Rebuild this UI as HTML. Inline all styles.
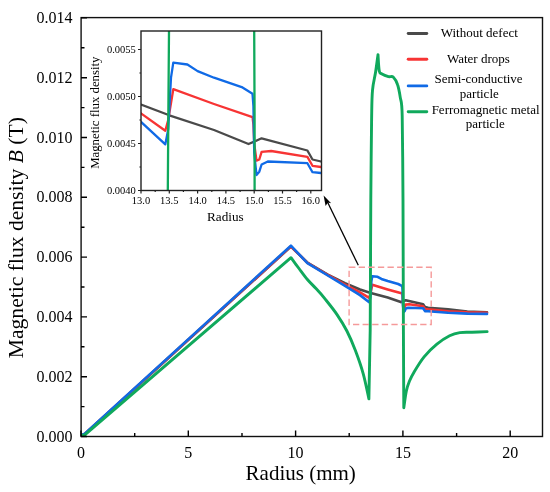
<!DOCTYPE html><html><head><meta charset="utf-8"><title>Magnetic flux density</title>
<style>html,body{margin:0;padding:0;background:#fff}svg{display:block}text{font-family:"Liberation Serif","Times New Roman",serif;fill:#000}</style></head><body>
<svg width="550" height="492" viewBox="0 0 550 492">
<rect width="550" height="492" fill="#fff"/>
<defs><clipPath id="mc"><rect x="81" y="17.5" width="462" height="419"/></clipPath><clipPath id="ic"><rect x="141" y="31" width="180.5" height="159.5"/></clipPath></defs>
<g clip-path="url(#mc)" fill="none" stroke-linejoin="round" stroke-linecap="round" stroke-width="2.6">
<polyline stroke="#4a4a4a" points="81.0,435.0 84.2,434.7 290.9,246.6 307.4,262.5 327.8,274.6 345.0,283.1 360.0,289.5 370.7,293.0 387.7,297.6 400.8,302.1 402.9,301.4 405.7,300.3 423.1,304.2 425.0,307.0 428.2,307.7 448.0,309.4 467.3,311.5 487.0,312.2"/>
<polyline stroke="#f73434" points="81.0,435.0 84.2,434.4 290.9,246.3 307.4,262.8 327.8,275.0 345.0,284.6 360.0,292.4 369.2,297.9 370.3,294.5 372.2,284.7 387.7,289.4 402.3,293.6 402.6,296.0 402.9,302.0 403.8,307.4 404.8,307.0 405.7,304.6 409.3,304.3 423.1,306.2 425.0,309.0 428.2,309.4 448.0,311.2 467.3,312.4 487.0,312.7"/>
<polyline stroke="#106ae6" points="81.0,435.0 84.2,434.1 290.9,245.7 307.4,263.1 327.8,275.5 345.0,285.8 360.0,295.1 369.2,302.2 370.3,297.5 371.4,281.0 372.2,276.2 377.6,276.8 381.4,278.9 387.7,281.0 398.2,284.0 402.3,286.1 402.6,290.0 402.9,304.9 403.8,312.0 404.8,310.9 405.7,308.6 408.1,307.7 423.1,308.2 425.0,311.1 428.2,311.3 448.0,312.7 467.3,313.6 487.0,313.9"/>
<path stroke="#10a95c" stroke-width="2.9" d="M81,435.4L84.8,434.9L291,257.7C292.3,259.5 296.3,264.9 299.0,268.5C301.7,272.1 304.6,276.2 307.4,279.5C310.2,282.8 313.2,285.5 316.0,288.5C318.8,291.5 320.6,293.3 324.0,297.6C327.4,301.9 332.9,308.5 336.7,314.1C340.5,319.7 343.8,324.9 346.9,331.0C350.0,337.1 352.7,343.4 355.4,350.5C358.1,357.6 360.9,365.3 363.1,373.4C365.4,381.5 367.9,394.6 368.9,398.9L370.2,330L370.8,200C370.9,186.7 371.3,138.3 371.6,120.0C371.9,101.7 371.8,98.3 372.5,90.3C373.2,82.3 374.7,77.9 375.6,72.0C376.5,66.1 377.6,57.6 378.0,54.7C378.2,57.4 378.6,67.9 379.3,71.1C380.0,74.3 380.5,73.0 382.0,73.9C383.5,74.8 386.5,76.0 388.4,76.6C390.3,77.1 391.9,75.8 393.4,77.2C394.9,78.6 396.5,81.4 397.6,84.8C398.8,88.2 399.5,92.4 400.3,97.6C401.1,102.8 401.8,98.9 402.2,116.0C402.6,133.1 402.9,186.0 403.0,200.0L403.4,330L403.8,407.8C404.2,405.0 405.4,395.7 406.3,391.2C407.2,386.7 408.2,384.2 409.5,381.0C410.8,377.8 411.6,376.2 414.0,372.2C416.4,368.2 420.3,361.6 424.1,356.9C427.9,352.2 432.6,347.7 436.9,344.2C441.1,340.7 445.8,337.7 449.6,335.8C453.4,333.9 456.1,333.2 459.8,332.6C463.5,332.0 467.4,332.4 472.0,332.2C476.6,332.0 484.6,331.7 487.1,331.6"/>
</g>
<rect x="349.1" y="267.3" width="82.1" height="57.2" fill="none" stroke="#f59a9a" stroke-width="1.4" stroke-dasharray="6.3,3.3"/>
<line x1="358.3" y1="265.3" x2="327" y2="201" stroke="#000" stroke-width="1.3"/>
<polygon points="323.6,195.4 331.2,203.2 327.9,202.6 325.6,206" fill="#000"/>
<rect x="81.1" y="17.6" width="461.4" height="418.9" fill="none" stroke="#111" stroke-width="1.4"/>
<path d="M81,436.5h6M81,406.6h3.5M81,376.7h6M81,346.8h3.5M81,316.9h6M81,287.0h3.5M81,257.1h6M81,227.2h3.5M81,197.3h6M81,167.4h3.5M81,137.5h6M81,107.6h3.5M81,77.7h6M81,47.8h3.5M81,17.9h6M81.0,436.5v-6M134.7,436.5v-3.5M188.3,436.5v-6M242.0,436.5v-3.5M295.6,436.5v-6M349.2,436.5v-3.5M402.9,436.5v-6M456.6,436.5v-3.5M510.2,436.5v-6" stroke="#000" stroke-width="1.4" fill="none"/>
<text x="72.5" y="441.5" font-size="16" text-anchor="end">0.000</text>
<text x="72.5" y="381.7" font-size="16" text-anchor="end">0.002</text>
<text x="72.5" y="321.9" font-size="16" text-anchor="end">0.004</text>
<text x="72.5" y="262.1" font-size="16" text-anchor="end">0.006</text>
<text x="72.5" y="202.3" font-size="16" text-anchor="end">0.008</text>
<text x="72.5" y="142.5" font-size="16" text-anchor="end">0.010</text>
<text x="72.5" y="82.7" font-size="16" text-anchor="end">0.012</text>
<text x="72.5" y="22.9" font-size="16" text-anchor="end">0.014</text>
<text x="81.0" y="457.7" font-size="16" text-anchor="middle">0</text>
<text x="188.3" y="457.7" font-size="16" text-anchor="middle">5</text>
<text x="295.6" y="457.7" font-size="16" text-anchor="middle">10</text>
<text x="402.9" y="457.7" font-size="16" text-anchor="middle">15</text>
<text x="510.2" y="457.7" font-size="16" text-anchor="middle">20</text>
<text x="300.7" y="480" font-size="21" text-anchor="middle">Radius (mm)</text>
<text transform="translate(22.8,237.7) rotate(-90)" font-size="21.6" text-anchor="middle">Magnetic flux density <tspan font-style="italic">B</tspan> (T)</text>
<line x1="408.2" y1="33.5" x2="426.8" y2="33.5" stroke="#4a4a4a" stroke-width="2.9" stroke-linecap="round"/>
<line x1="408.2" y1="59.2" x2="426.8" y2="59.2" stroke="#f73434" stroke-width="2.9" stroke-linecap="round"/>
<line x1="408.2" y1="85.9" x2="426.8" y2="85.9" stroke="#106ae6" stroke-width="2.9" stroke-linecap="round"/>
<line x1="408.2" y1="111.8" x2="426.8" y2="111.8" stroke="#10a95c" stroke-width="2.9" stroke-linecap="round"/>
<text x="479.3" y="36.8" font-size="13" text-anchor="middle">Without defect</text>
<text x="478.4" y="62.7" font-size="13" text-anchor="middle">Water drops</text>
<text x="478.6" y="82.6" font-size="13" text-anchor="middle">Semi-conductive</text>
<text x="479.3" y="97.6" font-size="13" text-anchor="middle">particle</text>
<text x="485.6" y="113.7" font-size="13" text-anchor="middle">Ferromagnetic metal</text>
<text x="485.3" y="128.2" font-size="13" text-anchor="middle">particle</text>
<rect x="141" y="31" width="180.5" height="159.5" fill="#fff" stroke="none"/>
<g clip-path="url(#ic)" fill="none" stroke-linejoin="round" stroke-width="2.3">
<polyline stroke="#4a4a4a" points="-594.8,561.8 -586.3,560.9 -41.3,-30.4 2.3,19.4 56.1,57.5 101.4,84.3 141.0,104.5 169.3,115.3 214.0,130.0 248.5,144.0 254.2,141.6 261.6,138.3 307.4,150.5 312.5,159.5 321.0,161.5 373.1,167.0 424.0,173.6 476.1,175.7"/>
<polyline stroke="#f73434" points="-594.8,561.8 -586.3,559.9 -41.3,-31.3 2.3,20.4 56.1,58.9 101.4,89.0 141.0,113.4 165.3,130.7 168.2,120.0 173.3,89.2 214.0,104.0 252.5,117.2 253.4,124.7 254.2,143.5 256.5,160.7 259.3,159.5 261.6,151.8 271.2,151.0 307.4,156.9 312.5,165.8 321.0,167.0 373.1,172.6 424.0,176.4 476.1,177.3"/>
<polyline stroke="#106ae6" points="-594.8,561.8 -586.3,559.0 -41.3,-33.2 2.3,21.3 56.1,60.3 101.4,92.7 141.0,121.9 165.3,144.4 168.2,129.4 171.0,77.7 173.3,62.7 187.4,64.5 197.6,71.1 214.0,77.7 241.7,87.1 252.5,93.7 253.4,105.9 254.2,152.9 256.5,175.0 259.3,171.7 261.6,164.5 267.8,161.5 307.4,163.2 312.5,172.2 321.0,173.0 373.1,177.3 424.0,180.2 476.1,181.1"/>
<polyline stroke="#10a95c" points="167.8,191 168.3,120 169,31"/>
<polyline stroke="#10a95c" points="254.6,191 254.6,120 254.2,31"/>
</g>
<rect x="141" y="31" width="180.5" height="159.5" fill="none" stroke="#222" stroke-width="1.4"/>
<path d="M141,190.5h-3M141,167.0h-1.6M141,143.5h-3M141,120.0h-1.6M141,96.5h-3M141,73.0h-1.6M141,49.5h-3M141.0,190.5v3M155.2,190.5v1.6M169.3,190.5v3M183.4,190.5v1.6M197.6,190.5v3M211.8,190.5v1.6M225.9,190.5v3M240.1,190.5v1.6M254.2,190.5v3M268.4,190.5v1.6M282.5,190.5v3M296.6,190.5v1.6M310.8,190.5v3" stroke="#222" stroke-width="1.2" fill="none"/>
<text x="135.8" y="194.1" font-size="10.5" text-anchor="end" fill="#222">0.0040</text>
<text x="135.8" y="147.1" font-size="10.5" text-anchor="end" fill="#222">0.0045</text>
<text x="135.8" y="100.1" font-size="10.5" text-anchor="end" fill="#222">0.0050</text>
<text x="135.8" y="53.1" font-size="10.5" text-anchor="end" fill="#222">0.0055</text>
<text x="141.0" y="204.3" font-size="10.5" text-anchor="middle" fill="#222">13.0</text>
<text x="169.3" y="204.3" font-size="10.5" text-anchor="middle" fill="#222">13.5</text>
<text x="197.6" y="204.3" font-size="10.5" text-anchor="middle" fill="#222">14.0</text>
<text x="225.9" y="204.3" font-size="10.5" text-anchor="middle" fill="#222">14.5</text>
<text x="254.2" y="204.3" font-size="10.5" text-anchor="middle" fill="#222">15.0</text>
<text x="282.5" y="204.3" font-size="10.5" text-anchor="middle" fill="#222">15.5</text>
<text x="310.8" y="204.3" font-size="10.5" text-anchor="middle" fill="#222">16.0</text>
<text x="225.4" y="220.6" font-size="13.2" text-anchor="middle" fill="#222">Radius</text>
<text transform="translate(99.2,112.7) rotate(-90)" font-size="12.8" text-anchor="middle" fill="#222">Magnetic flux density</text>
</svg></body></html>
